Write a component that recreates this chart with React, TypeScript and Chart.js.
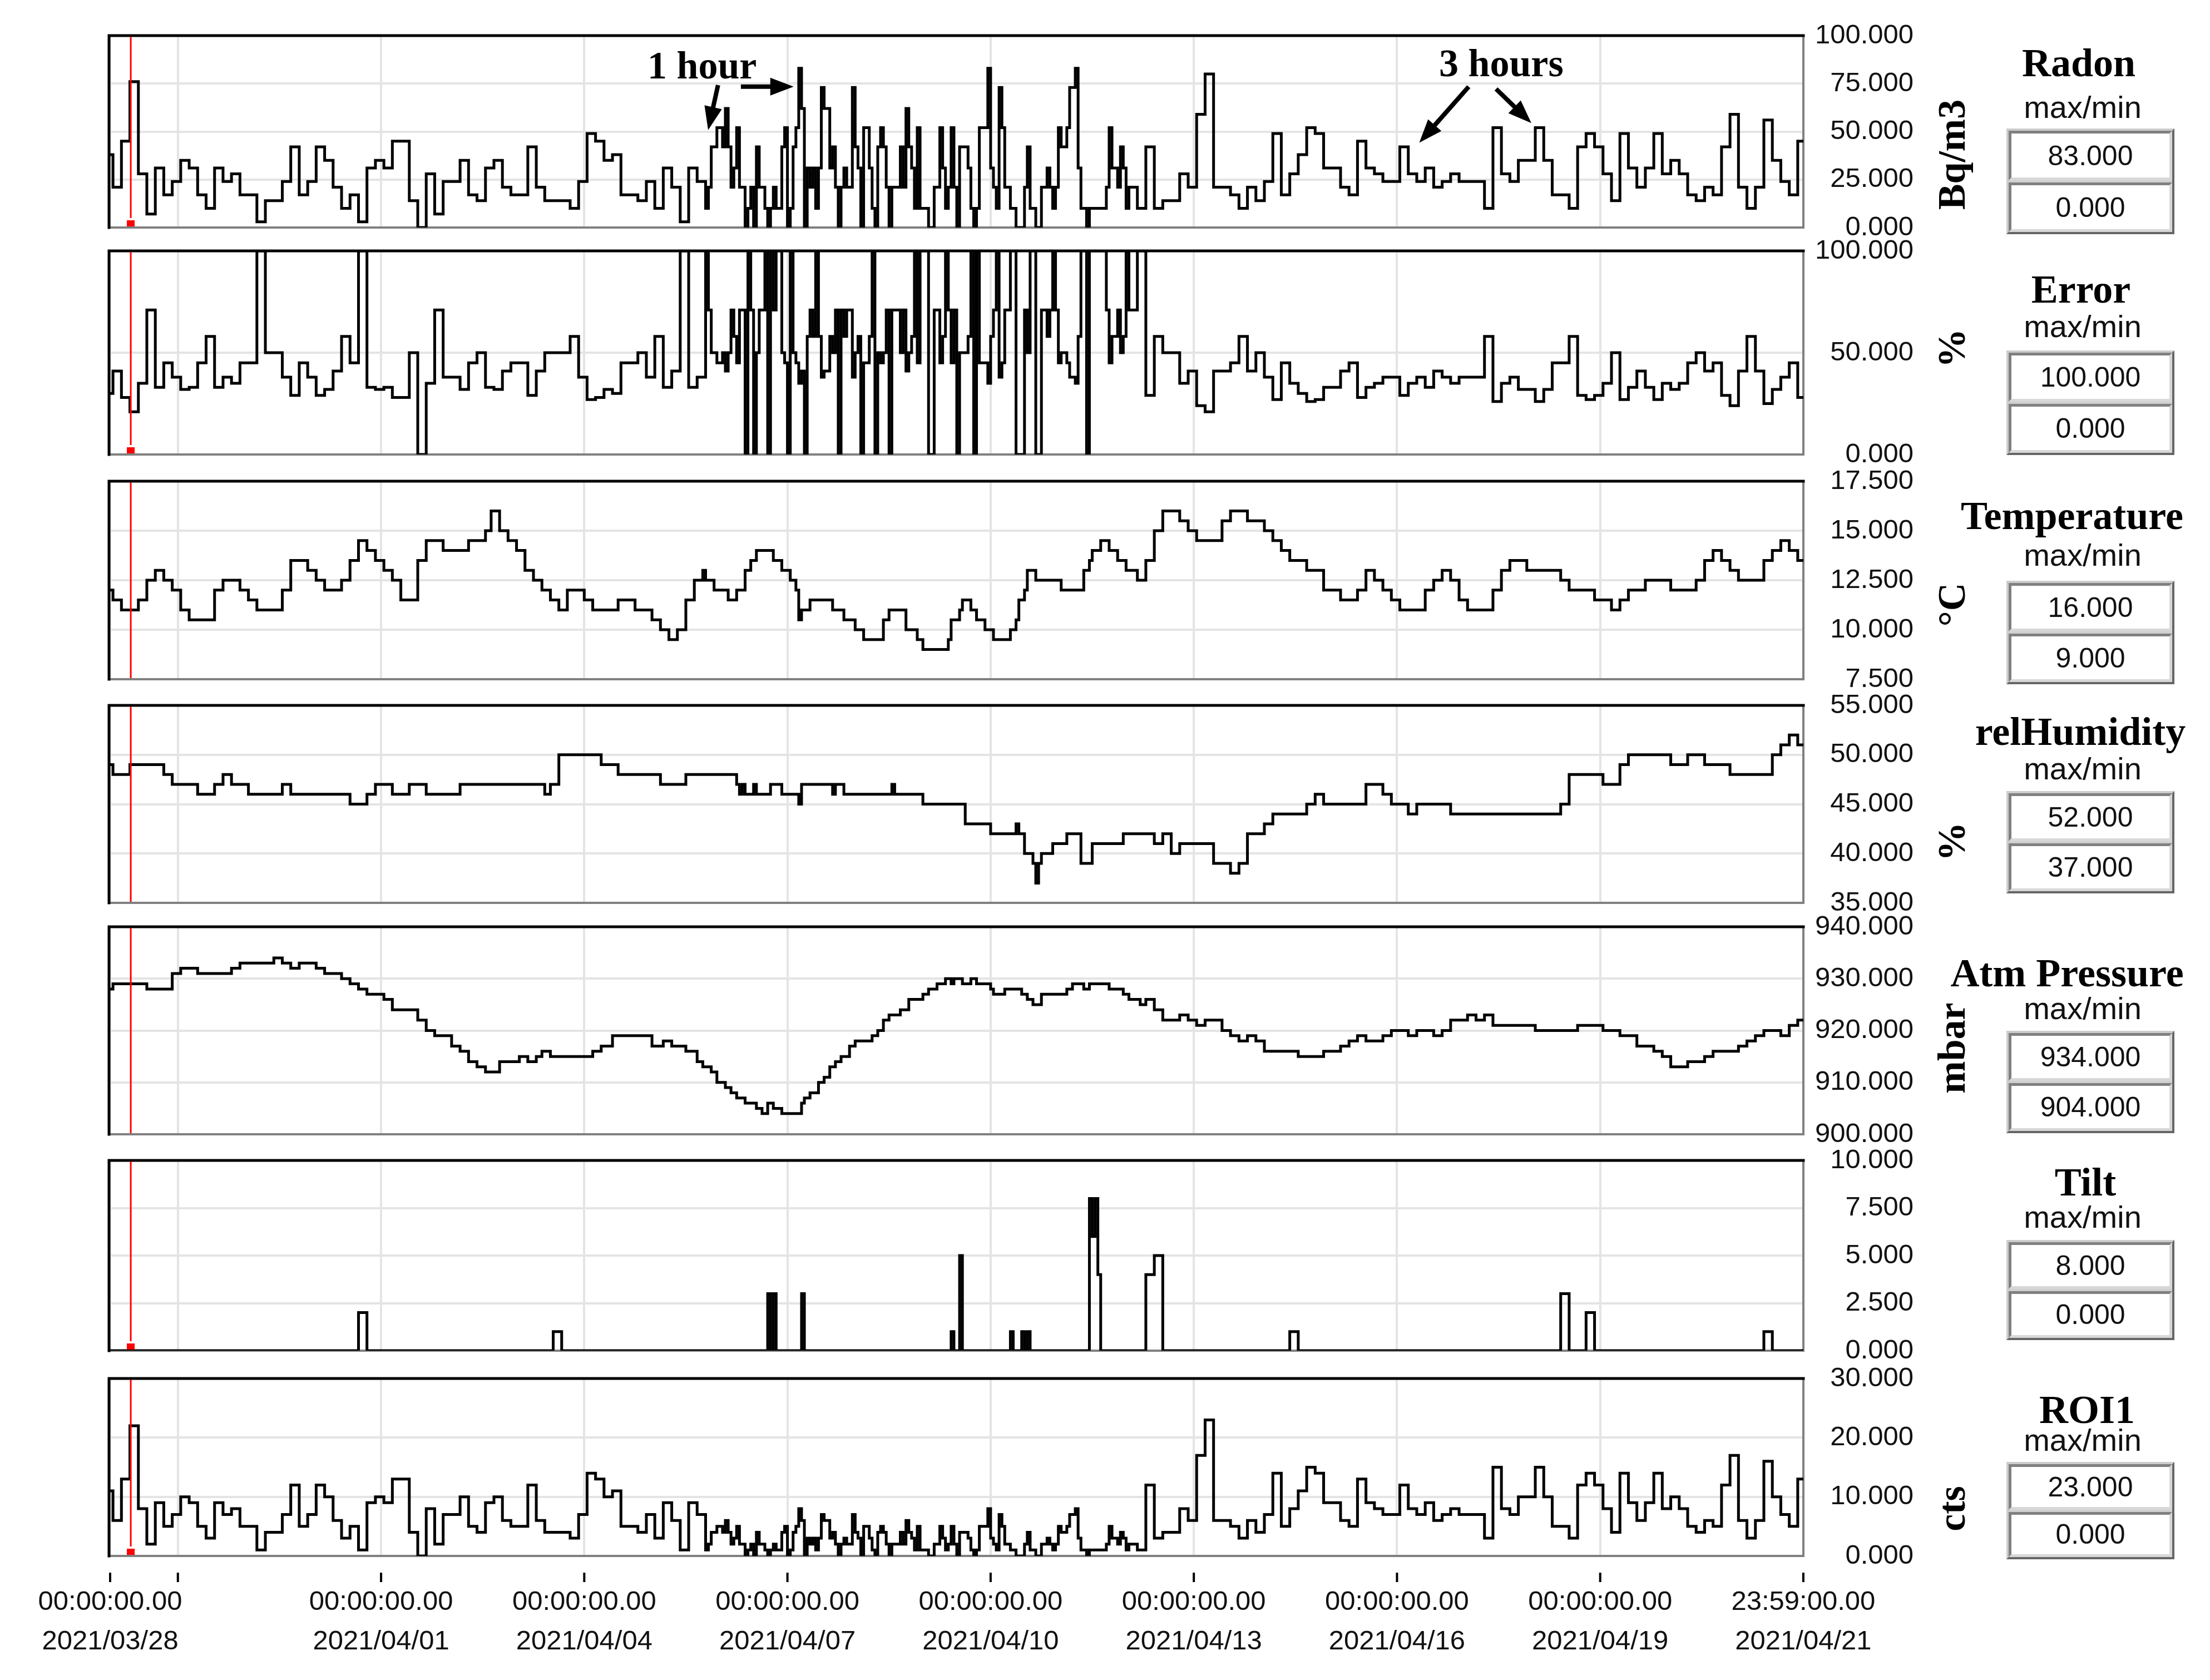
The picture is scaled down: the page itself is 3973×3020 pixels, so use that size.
import React, { useEffect, useRef } from 'react';
import { Chart, registerables } from 'chart.js';

Chart.register(...registerables);

/* ================= DATA ================= */

// time axis (hours since 2021/03/28 00:00)
const X_MIN = -0.4;
const X_MAX = 600;
const SERIES_END = 601;
const tickHours = [0, 24, 96, 168, 240, 312, 384, 456, 528, 599.98];
const tickTimes = ['00:00:00.00', '', '00:00:00.00', '00:00:00.00', '00:00:00.00', '00:00:00.00', '00:00:00.00', '00:00:00.00', '00:00:00.00', '23:59:00.00'];
const tickDates = ['2021/03/28', '', '2021/04/01', '2021/04/04', '2021/04/07', '2021/04/10', '2021/04/13', '2021/04/16', '2021/04/19', '2021/04/21'];
const cursorHour = 7.3;

// counting series: three sections (3 h sampling, 1 h sampling, 3 h sampling)
const sectionStart = [-2, 211, 367];
const sectionStep = [3, 1, 3];

const radonA = [
  38, 21, 45, 76, 28, 7, 31, 17, 24, 35,
  31, 17, 10, 31, 24, 28, 17, 17, 3, 14,
  14, 24, 42, 17, 24, 42, 35, 21, 10, 17,
  3, 31, 35, 31, 45, 45, 14, 0, 28, 7,
  24, 24, 35, 17, 14, 31, 35, 21, 17, 17,
  42, 21, 14, 14, 14, 10, 24, 49, 45, 35,
  38, 17, 17, 14, 24, 10, 31, 21, 3, 31,
  24,
];
const radonB = [
  10, 21, 42, 42, 52, 52, 42, 62, 42, 21,
  31, 52, 21, 21, 0, 10, 21, 0, 42, 21,
  21, 10, 0, 10, 21, 10, 10, 42, 52, 0,
  10, 42, 52, 83, 62, 0, 31, 21, 31, 10,
  31, 73, 62, 62, 31, 42, 21, 0, 21, 31,
  21, 21, 73, 42, 31, 0, 52, 52, 31, 10,
  0, 42, 52, 42, 21, 0, 21, 21, 21, 42,
  21, 62, 42, 31, 10, 52, 10, 10, 10, 0,
  0, 21, 21, 52, 31, 10, 21, 52, 21, 0,
  42, 42, 42, 31, 10, 0, 10, 52, 52, 52,
  83, 31, 21, 10, 73, 52, 21, 21, 10, 10,
  0, 0, 0, 21, 42, 10, 10, 0, 0, 21,
  21, 31, 21, 10, 21, 52, 42, 42, 52, 73,
  73, 83, 31, 10, 10, 0, 10, 10, 10, 10,
  10, 10, 21, 52, 31, 31, 21, 42, 31, 10,
  21, 21, 21, 10, 10, 10,
];
const radonC = [
  42, 10, 14, 14, 28, 21, 59, 80, 21, 21,
  17, 10, 21, 14, 24, 49, 17, 28, 38, 52,
  49, 31, 31, 21, 17, 45, 31, 28, 24, 24,
  42, 28, 24, 31, 21, 24, 28, 24, 24, 24,
  10, 52, 28, 24, 35, 35, 52, 35, 17, 17,
  10, 42, 49, 42, 28, 14, 49, 31, 21, 31,
  49, 28, 35, 28, 17, 14, 21, 17, 42, 59,
  21, 10, 21, 56, 35, 24, 17, 45,
];

const errorA = [
  30, 41, 28, 21, 35, 71, 33, 45, 38, 32,
  33, 45, 58, 33, 38, 35, 45, 45, 100, 50,
  50, 38, 29, 45, 38, 29, 32, 41, 58, 45,
  100, 33, 32, 33, 28, 28, 50, 0, 35, 71,
  38, 38, 32, 45, 50, 33, 32, 41, 45, 45,
  29, 41, 50, 50, 50, 58, 38, 27, 28, 32,
  30, 45, 45, 50, 38, 58, 33, 41, 100, 33,
  38,
];
const errorB = [
  100, 71, 50, 50, 45, 45, 50, 41, 50, 71,
  58, 45, 71, 71, 0, 100, 71, 0, 50, 71,
  71, 100, 0, 100, 71, 100, 100, 50, 45, 0,
  100, 50, 45, 35, 41, 0, 58, 71, 58, 100,
  58, 38, 41, 41, 58, 50, 71, 0, 71, 58,
  71, 71, 38, 50, 58, 0, 45, 45, 58, 100,
  0, 50, 45, 50, 71, 0, 71, 71, 71, 50,
  71, 41, 50, 58, 100, 45, 100, 100, 100, 0,
  0, 71, 71, 45, 58, 100, 71, 45, 71, 0,
  50, 50, 50, 58, 100, 0, 100, 45, 45, 45,
  35, 58, 71, 100, 38, 45, 71, 71, 100, 100,
  0, 0, 0, 71, 50, 100, 100, 0, 0, 71,
  71, 58, 71, 100, 71, 45, 50, 50, 45, 38,
  38, 35, 58, 100, 100, 0, 100, 100, 100, 100,
  100, 100, 71, 45, 58, 58, 71, 50, 58, 100,
  71, 71, 71, 100, 100, 100,
];
const errorC = [
  29, 58, 50, 50, 35, 41, 24, 21, 41, 41,
  45, 58, 41, 50, 38, 27, 45, 35, 30, 26,
  27, 33, 33, 41, 45, 28, 33, 35, 38, 38,
  29, 35, 38, 33, 41, 38, 35, 38, 38, 38,
  58, 26, 35, 38, 32, 32, 26, 32, 45, 45,
  58, 29, 27, 29, 35, 50, 27, 33, 41, 33,
  27, 35, 32, 35, 45, 50, 41, 45, 29, 24,
  41, 58, 41, 25, 32, 38, 45, 28,
];

const roiA = [
  11, 6, 13, 22, 8, 2, 9, 5, 7, 10,
  9, 5, 3, 9, 7, 8, 5, 5, 1, 4,
  4, 7, 12, 5, 7, 12, 10, 6, 3, 5,
  1, 9, 10, 9, 13, 13, 4, 0, 8, 2,
  7, 7, 10, 5, 4, 9, 10, 6, 5, 5,
  12, 6, 4, 4, 4, 3, 7, 14, 13, 10,
  11, 5, 5, 4, 7, 3, 9, 6, 1, 9,
  7,
];
const roiB = [
  1, 2, 4, 4, 5, 5, 4, 6, 4, 2,
  3, 5, 2, 2, 0, 1, 2, 0, 4, 2,
  2, 1, 0, 1, 2, 1, 1, 4, 5, 0,
  1, 4, 5, 8, 6, 0, 3, 2, 3, 1,
  3, 7, 6, 6, 3, 4, 2, 0, 2, 3,
  2, 2, 7, 4, 3, 0, 5, 5, 3, 1,
  0, 4, 5, 4, 2, 0, 2, 2, 2, 4,
  2, 6, 4, 3, 1, 5, 1, 1, 1, 0,
  0, 2, 2, 5, 3, 1, 2, 5, 2, 0,
  4, 4, 4, 3, 1, 0, 1, 5, 5, 5,
  8, 3, 2, 1, 7, 5, 2, 2, 1, 1,
  0, 0, 0, 2, 4, 1, 1, 0, 0, 2,
  2, 3, 2, 1, 2, 5, 4, 4, 5, 7,
  7, 8, 3, 1, 1, 0, 1, 1, 1, 1,
  1, 1, 2, 5, 3, 3, 2, 4, 3, 1,
  2, 2, 2, 1, 1, 1,
];
const roiC = [
  12, 3, 4, 4, 8, 6, 17, 23, 6, 6,
  5, 3, 6, 4, 7, 14, 5, 8, 11, 15,
  14, 9, 9, 6, 5, 13, 9, 8, 7, 7,
  12, 8, 7, 9, 6, 7, 8, 7, 7, 7,
  3, 15, 8, 7, 10, 10, 15, 10, 5, 5,
  3, 12, 14, 12, 8, 4, 14, 9, 6, 9,
  14, 8, 10, 8, 5, 4, 6, 5, 12, 17,
  6, 3, 6, 16, 10, 7, 5, 13,
];

// temperature (°C): step start hours and values
const tempT = [
  -2, 1, 4, 10, 13, 16, 19, 22, 25, 28,
  37, 40, 46, 49, 52, 61, 64, 70, 73, 76,
  82, 85, 88, 91, 94, 97, 100, 103, 109, 112,
  118, 127, 133, 135, 138, 141, 144, 147, 150, 153,
  156, 159, 162, 168, 171, 180, 186, 192, 195, 198,
  201, 204, 207, 210, 211, 214, 219, 222, 225, 227,
  229, 235, 238, 241, 243, 244, 245, 248, 256, 260,
  264, 267, 274, 276, 282, 286, 288, 297, 298, 301,
  302, 305, 307, 310, 313, 319, 321, 322, 324, 325,
  328, 337, 345, 347, 348, 351, 354, 357, 360, 364,
  367, 370, 373, 379, 382, 385, 394, 397, 403, 409,
  412, 415, 418, 424, 430, 436, 442, 445, 448, 451,
  454, 457, 466, 469, 472, 475, 478, 481, 490, 493,
  496, 502, 514, 517, 526, 532, 535, 538, 544, 553,
  562, 565, 568, 571, 574, 577, 586, 589, 592, 595,
  598,
];
const tempV = [
  12, 11.5, 11, 11.5, 12.5, 13, 12.5, 12, 11, 10.5,
  12, 12.5, 12, 11.5, 11, 12, 13.5, 13, 12.5, 12,
  12.5, 13.5, 14.5, 14, 13.5, 13, 12.5, 11.5, 13.5, 14.5,
  14, 14.5, 15, 16, 15, 14.5, 14, 13, 12.5, 12,
  11.5, 11, 12, 11.5, 11, 11.5, 11, 10.5, 10, 9.5,
  10, 11.5, 12.5, 13, 12.5, 12, 11.5, 12, 13, 13.5,
  14, 13.5, 13, 12.5, 12, 10.5, 11, 11.5, 11, 10.5,
  10, 9.5, 10.5, 11, 10, 9.5, 9, 9.5, 10.5, 11,
  11.5, 11, 10.5, 10, 9.5, 10, 10.5, 11.5, 12, 13,
  12.5, 12, 13, 13.5, 14, 14.5, 14, 13.5, 13, 12.5,
  13.5, 15, 16, 15.5, 15, 14.5, 15.5, 16, 15.5, 15,
  14.5, 14, 13.5, 13, 12, 11.5, 12, 13, 12.5, 12,
  11.5, 11, 12, 12.5, 13, 12.5, 11.5, 11, 12, 13,
  13.5, 13, 12.5, 12, 11.5, 11, 11.5, 12, 12.5, 12,
  12.5, 13.5, 14, 13.5, 13, 12.5, 13.5, 14, 14.5, 14,
  13.5,
];

// relative humidity (%)
const humT = [
  -2, 1, 7, 19, 22, 31, 37, 40, 43, 49,
  61, 64, 85, 91, 94, 100, 106, 112, 124, 154,
  156, 159, 174, 180, 195, 204, 222, 223, 224, 225,
  228, 229, 234, 238, 244, 245, 256, 257, 260, 277,
  278, 288, 303, 312, 321, 322, 324, 327, 328, 329,
  330, 334, 339, 344, 348, 359, 370, 373, 376, 379,
  391, 397, 400, 403, 409, 412, 424, 427, 430, 445,
  451, 454, 460, 463, 475, 514, 517, 529, 535, 538,
  553, 559, 565, 574, 589, 592, 595, 598,
];
const humV = [
  49, 48, 49, 48, 47, 46, 47, 48, 47, 46,
  47, 46, 45, 46, 47, 46, 47, 46, 47, 46,
  47, 50, 49, 48, 47, 48, 47, 46, 47, 46,
  47, 46, 47, 46, 45, 47, 46, 47, 46, 47,
  46, 45, 43, 42, 43, 42, 40, 39, 37, 39,
  40, 41, 42, 39, 41, 42, 41, 42, 40, 41,
  39, 38, 39, 42, 43, 44, 45, 46, 45, 47,
  46, 45, 44, 45, 44, 45, 48, 47, 49, 50,
  49, 50, 49, 48, 50, 51, 52, 51,
];

// atmospheric pressure (mbar)
const presT = [
  -2, 1, 13, 22, 25, 31, 43, 46, 58, 61,
  64, 67, 73, 76, 82, 85, 88, 91, 97, 100,
  109, 112, 115, 121, 124, 127, 130, 133, 138, 145,
  148, 151, 153, 156, 171, 174, 178, 192, 196, 199,
  204, 208, 210, 213, 215, 218, 220, 222, 225, 229,
  231, 233, 235, 238, 245, 246, 248, 251, 253, 255,
  257, 259, 262, 264, 270, 272, 274, 276, 280, 283,
  288, 290, 293, 296, 298, 299, 302, 305, 307, 312,
  313, 317, 323, 325, 327, 330, 339, 341, 345, 347,
  354, 359, 361, 365, 367, 370, 373, 379, 382, 385,
  388, 394, 397, 400, 403, 406, 409, 421, 430, 436,
  439, 442, 445, 451, 454, 460, 463, 469, 472, 475,
  481, 484, 487, 490, 505, 520, 529, 535, 541, 547,
  550, 553, 559, 565, 568, 577, 580, 583, 586, 592,
  595, 598,
];
const presV = [
  928, 929, 928, 931, 932, 931, 932, 933, 934, 933,
  932, 933, 932, 931, 930, 929, 928, 927, 926, 924,
  922, 920, 919, 917, 916, 914, 913, 912, 914, 915,
  914, 915, 916, 915, 916, 917, 919, 917, 918, 917,
  916, 914, 913, 912, 910, 909, 908, 907, 906, 905,
  904, 906, 905, 904, 906, 907, 908, 910, 911, 913,
  914, 915, 917, 918, 919, 920, 922, 923, 924, 926,
  927, 928, 929, 930, 929, 930, 929, 930, 929, 928,
  927, 928, 927, 926, 925, 927, 928, 929, 928, 929,
  928, 927, 926, 925, 926, 924, 922, 923, 922, 921,
  922, 920, 919, 918, 919, 918, 916, 915, 916, 917,
  918, 919, 918, 919, 920, 919, 920, 919, 920, 922,
  923, 922, 923, 921, 920, 921, 920, 919, 917, 916,
  915, 913, 914, 915, 916, 917, 918, 919, 920, 919,
  921, 922,
];

// tilt
const tiltT = [-2, 88, 91, 157, 160, 233, 234, 235, 236, 245, 246, 298, 299, 301, 302, 319, 320, 323, 324, 325, 326, 347, 348, 349, 350, 351, 367, 370, 373, 418, 421, 514, 517, 523, 526, 586, 589];
const tiltV = [0, 2, 0, 1, 0, 3, 0, 3, 0, 3, 0, 1, 0, 5, 0, 1, 0, 1, 0, 1, 0, 8, 6, 8, 4, 0, 4, 5, 0, 1, 0, 3, 0, 2, 0, 1, 0];

// panel texts
const titles = ['Radon', 'Error', 'Temperature', 'relHumidity', 'Atm Pressure', 'Tilt', 'ROI1'];
const units = ['Bq/m3', '%', '°C', '%', 'mbar', '', 'cts'];
const maxTexts = ['83.000', '100.000', '16.000', '52.000', '934.000', '8.000', '23.000'];
const minTexts = ['0.000', '0.000', '9.000', '37.000', '904.000', '0.000', '0.000'];
const axisMin = [0, 0, 7.5, 35, 900, 0, 0];
const axisMax = [100, 100, 17.5, 55, 940, 10, 30];
const axisStep = [25, 50, 2.5, 5, 10, 2.5, 10];

// annotation arrows on the radon panel (hour, value)
const arrows = [
  { from: [215.4, 74.2], to: [211.9, 50.8] },
  { from: [223.5, 73.4], to: [242.2, 73.4] },
  { from: [481.4, 73.4], to: [463.9, 44.2] },
  { from: [491.1, 72.2], to: [503.6, 54.4] },
];

/* ================= LAYOUT / STYLE ================= */
const SANS = '"Liberation Sans", Arial, Helvetica, sans-serif';
const SERIF = '"Liberation Serif", "Times New Roman", serif';
const TEXT = '#111111';
const GRID = '#e4e4e4';
const PAGE_W = 3973;
const PAGE_H = 3020;
const PLOT_LEFT = 196;
const PLOT_RIGHT = 3242;
const CANVAS_W = 3440;
const LABEL_RIGHT = 3418;
const PAD_V = 90;
const TICK_SIZE = 49;
const X_AXIS_H = 200;
const LINE_W = 5;
const MM_CX = 3744;
const UNIT_CX = 3509;
const BOX_LEFT = 3607;
const BOX_W = 302;

const panelLayout = [
  { top: 64, bottom: 409, marker: true, titleX: 3737, titleY: 113, mmY: 193, boxTop: 231, boxH: 190, unitY: 278 },
  { top: 451, bottom: 817, marker: true, titleX: 3741, titleY: 520, mmY: 587, boxTop: 630, boxH: 188, unitY: 626 },
  { top: 865, bottom: 1221, marker: false, titleX: 3725, titleY: 927, mmY: 998, boxTop: 1044, boxH: 186, unitY: 1087 },
  { top: 1268, bottom: 1623, marker: false, titleX: 3740, titleY: 1315, mmY: 1382, boxTop: 1422, boxH: 184, unitY: 1513 },
  { top: 1666, bottom: 2039, marker: false, titleX: 3716, titleY: 1749, mmY: 1813, boxTop: 1853, boxH: 184, unitY: 1884 },
  { top: 2086, bottom: 2428, marker: true, titleX: 3749, titleY: 2125, mmY: 2188, boxTop: 2229, boxH: 180, unitY: 2257 },
  { top: 2478, bottom: 2797, marker: true, titleX: 3752, titleY: 2534, mmY: 2589, boxTop: 2628, boxH: 175, unitY: 2712 },
];

/* ================= SERIES BUILDERS ================= */
type Pt = { x: number; y: number };
function sampledSeries(parts: number[][]): Pt[] {
  const pts: Pt[] = [];
  parts.forEach((vals, s) => {
    vals.forEach((v, i) => pts.push({ x: sectionStart[s] + i * sectionStep[s], y: v }));
  });
  pts.push({ x: SERIES_END, y: pts[pts.length - 1].y });
  return pts;
}
function pairedSeries(t: number[], v: number[]): Pt[] {
  const pts: Pt[] = t.map((x, i) => ({ x, y: v[i] }));
  pts.push({ x: SERIES_END, y: v[v.length - 1] });
  return pts;
}

const series: Pt[][] = [
  sampledSeries([radonA, radonB, radonC]),
  sampledSeries([errorA, errorB, errorC]),
  pairedSeries(tempT, tempV),
  pairedSeries(humT, humV),
  pairedSeries(presT, presV),
  pairedSeries(tiltT, tiltV),
  sampledSeries([roiA, roiB, roiC]),
];

/* ================= PLUGINS ================= */
const framePlugin = {
  id: 'panelFrame',
  beforeDatasetsDraw(chart: any) {
    const { ctx, chartArea: a } = chart;
    ctx.save();
    ctx.lineCap = 'square';
    ctx.lineWidth = 4;
    ctx.strokeStyle = '#808080';
    ctx.beginPath();
    ctx.moveTo(a.left, a.bottom);
    ctx.lineTo(a.right, a.bottom);
    ctx.lineTo(a.right, a.top);
    ctx.stroke();
    ctx.strokeStyle = '#000000';
    ctx.lineWidth = 5;
    ctx.beginPath();
    ctx.moveTo(a.left, a.bottom);
    ctx.lineTo(a.left, a.top);
    ctx.lineTo(a.right, a.top);
    ctx.stroke();
    ctx.restore();
  },
};

function cursorPlugin(marker: boolean) {
  return {
    id: 'cursorLine',
    afterDatasetsDraw(chart: any) {
      const { ctx, chartArea: a } = chart;
      const x = chart.scales.x.getPixelForValue(cursorHour);
      ctx.save();
      ctx.strokeStyle = '#ff0000';
      ctx.lineWidth = 3;
      ctx.beginPath();
      ctx.moveTo(x, a.top + 2);
      ctx.lineTo(x, marker ? a.bottom - 17 : a.bottom - 2);
      ctx.stroke();
      if (marker) {
        ctx.fillStyle = '#ff0000';
        ctx.fillRect(x - 7, a.bottom - 13, 14, 11);
      }
      ctx.restore();
    },
  };
}

const arrowPlugin = {
  id: 'annoArrows',
  afterDatasetsDraw(chart: any) {
    const { ctx } = chart;
    const xs = chart.scales.x;
    const ys = chart.scales.y;
    ctx.save();
    ctx.fillStyle = '#000';
    ctx.strokeStyle = '#000';
    arrows.forEach((ar) => {
      const x0 = xs.getPixelForValue(ar.from[0]);
      const y0 = ys.getPixelForValue(ar.from[1]);
      const x1 = xs.getPixelForValue(ar.to[0]);
      const y1 = ys.getPixelForValue(ar.to[1]);
      const ang = Math.atan2(y1 - y0, x1 - x0);
      const head = 42;
      const half = 16;
      const bx = x1 - head * Math.cos(ang);
      const by = y1 - head * Math.sin(ang);
      ctx.lineWidth = 8;
      ctx.beginPath();
      ctx.moveTo(x0, y0);
      ctx.lineTo(bx + 2 * Math.cos(ang), by + 2 * Math.sin(ang));
      ctx.stroke();
      ctx.beginPath();
      ctx.moveTo(x1, y1);
      ctx.lineTo(bx + half * Math.sin(ang), by - half * Math.cos(ang));
      ctx.lineTo(bx - half * Math.sin(ang), by + half * Math.cos(ang));
      ctx.closePath();
      ctx.fill();
    });
    ctx.restore();
  },
};

const xTickPlugin = {
  id: 'xTickMarks',
  afterDraw(chart: any) {
    const { ctx, chartArea: a } = chart;
    const xs = chart.scales.x;
    ctx.save();
    ctx.strokeStyle = '#000';
    ctx.lineWidth = 4;
    tickHours.forEach((h) => {
      const px = xs.getPixelForValue(h);
      ctx.beginPath();
      ctx.moveTo(px, a.bottom + 30);
      ctx.lineTo(px, a.bottom + 47);
      ctx.stroke();
    });
    ctx.restore();
  },
};

/* ================= COMPONENTS ================= */
function PanelChart({ idx }: { idx: number }) {
  const ref = useRef<HTMLCanvasElement>(null);
  const L = panelLayout[idx];
  const isLast = idx === panelLayout.length - 1;
  const padBottom = isLast ? 10 : PAD_V;
  const height = PAD_V + (L.bottom - L.top) + (isLast ? X_AXIS_H : 0) + padBottom;

  useEffect(() => {
    const canvas = ref.current;
    if (!canvas) return;
    const labels: string[] = [];
    for (let v = axisMin[idx]; v <= axisMax[idx] + 1e-9; v += axisStep[idx]) labels.push(v.toFixed(3));
    const mctx = document.createElement('canvas').getContext('2d')!;
    mctx.font = `${TICK_SIZE}px ${SANS}`;
    const widest = Math.max(...labels.map((s) => mctx.measureText(s).width));
    const yPad = Math.max(2, LABEL_RIGHT - PLOT_RIGHT - widest);

    const plugins: any[] = [framePlugin, cursorPlugin(L.marker)];
    if (idx === 0) plugins.push(arrowPlugin);
    if (isLast) plugins.push(xTickPlugin);

    const chart = new Chart(canvas, {
      type: 'line',
      data: {
        datasets: [
          {
            data: series[idx] as any,
            stepped: 'before',
            borderColor: '#000000',
            borderWidth: LINE_W,
            pointRadius: 0,
            pointHoverRadius: 0,
            fill: false,
            tension: 0,
          },
        ],
      },
      options: {
        responsive: false,
        maintainAspectRatio: false,
        animation: false,
        devicePixelRatio: 1,
        events: [],
        parsing: false as any,
        normalized: true,
        layout: { padding: { left: PLOT_LEFT, right: 0, top: PAD_V, bottom: padBottom } },
        plugins: { legend: { display: false }, tooltip: { enabled: false } },
        scales: {
          x: {
            type: 'linear',
            min: X_MIN,
            max: X_MAX,
            afterBuildTicks: (s: any) => {
              s.ticks = tickHours.map((v) => ({ value: v }));
            },
            afterFit: (s: any) => {
              s.height = isLast ? X_AXIS_H : 0;
            },
            grid: { color: GRID, lineWidth: 4, drawTicks: false },
            border: { display: false },
            ticks: {
              display: isLast,
              autoSkip: false,
              maxRotation: 0,
              minRotation: 0,
              padding: 48,
              color: TEXT,
              font: { family: SANS, size: 49, lineHeight: 71 / 49 },
              callback: (_v: any, i: number) => (tickTimes[i] ? [tickTimes[i], tickDates[i]] : ''),
            },
          },
          y: {
            type: 'linear',
            position: 'right',
            min: axisMin[idx],
            max: axisMax[idx],
            afterFit: (s: any) => {
              s.width = CANVAS_W - PLOT_RIGHT;
            },
            grid: { color: GRID, lineWidth: 4, drawTicks: false },
            border: { display: false },
            ticks: {
              stepSize: axisStep[idx],
              autoSkip: false,
              padding: yPad,
              crossAlign: 'far',
              color: TEXT,
              font: { family: SANS, size: TICK_SIZE },
              callback: (v: any) => Number(v).toFixed(3),
            },
          },
        },
      } as any,
      plugins,
    });
    return () => chart.destroy();
  }, []);

  return (
    <canvas
      ref={ref}
      width={CANVAS_W}
      height={height}
      style={{ position: 'absolute', left: 0, top: L.top - PAD_V, width: CANVAS_W, height }}
    />
  );
}

function ValueBoxes({ top, height, maxText, minText }: { top: number; height: number; maxText: string; minText: string }) {
  return (
    <div
      style={{
        position: 'absolute',
        left: BOX_LEFT,
        top,
        width: BOX_W,
        height,
        boxSizing: 'border-box',
        border: '4px solid',
        borderColor: '#cccccc #666666 #666666 #cccccc',
        background: '#d0d0d0',
        display: 'flex',
        flexDirection: 'column',
        gap: 4,
      }}
    >
      {[maxText, minText].map((t, k) => (
        <div
          key={k}
          style={{
            flex: 1,
            boxSizing: 'border-box',
            border: '5px solid',
            borderColor: '#808080 #d8d8d8 #d8d8d8 #808080',
            background: '#ffffff',
            display: 'flex',
            alignItems: 'center',
            justifyContent: 'center',
            fontFamily: SANS,
            fontSize: 50,
            color: TEXT,
          }}
        >
          {t}
        </div>
      ))}
    </div>
  );
}

const centered = (x: number, y: number): React.CSSProperties => ({
  position: 'absolute',
  left: x,
  top: y,
  transform: 'translate(-50%, -50%)',
  whiteSpace: 'nowrap',
  lineHeight: 1,
});

export default function App() {
  return (
    <div
      style={{
        position: 'absolute',
        left: 0,
        top: 0,
        width: PAGE_W,
        height: PAGE_H,
        background: '#ffffff',
        overflow: 'hidden',
      }}
    >
      {panelLayout.map((_, i) => (
        <PanelChart key={'c' + i} idx={i} />
      ))}

      <div style={{ position: 'absolute', left: 1164, top: 83, fontFamily: SERIF, fontWeight: 'bold', fontSize: 70, lineHeight: '70px', whiteSpace: 'nowrap', color: '#000' }}>
        1 hour
      </div>
      <div style={{ position: 'absolute', left: 2587, top: 79, fontFamily: SERIF, fontWeight: 'bold', fontSize: 70, lineHeight: '70px', whiteSpace: 'nowrap', color: '#000' }}>
        3 hours
      </div>

      {panelLayout.map((L, i) => (
        <React.Fragment key={'s' + i}>
          {units[i] ? (
            <div
              style={{
                ...centered(UNIT_CX, L.unitY),
                transform: 'translate(-50%, -50%) rotate(-90deg)',
                fontFamily: SERIF,
                fontWeight: 'bold',
                fontSize: 70,
                color: '#000',
              }}
            >
              {units[i]}
            </div>
          ) : null}
          <div style={{ ...centered(L.titleX, L.titleY), fontFamily: SERIF, fontWeight: 'bold', fontSize: 72, color: '#000' }}>
            {titles[i]}
          </div>
          <div style={{ ...centered(MM_CX, L.mmY), fontFamily: SANS, fontSize: 56, color: TEXT }}>max/min</div>
          <ValueBoxes top={L.boxTop} height={L.boxH} maxText={maxTexts[i]} minText={minTexts[i]} />
        </React.Fragment>
      ))}
    </div>
  );
}
